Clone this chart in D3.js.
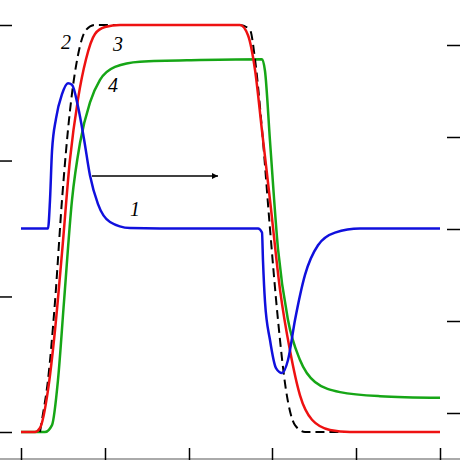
<!DOCTYPE html>
<html><head><meta charset="utf-8">
<script src="https://cdn.jsdelivr.net/npm/d3@7"></script>
<style>body{margin:0;background:#fff}svg{display:block}</style>
</head><body><svg id="c" width="460" height="460"></svg>
<script>
const blueX=[0,27,29,31,35,41,47,51,57,63,69,77,89,109,139,237,241,242,244,249,255,261,267,274,284,297,314,339,419];
const blueY=[50,50,57,69,77,83,85.7,85.3,80,72,63,56,51.6,50.1,50,50,49,42,32,22.6,15.7,14.5,17.7,27.5,38.6,45.9,49,50,50];
const redX=[0,14,19,27,34,41,49,57,65,74,84,99,219,227,234,241,249,259,269,279,291,309,329,419];
const redY=[0,0,1,10.3,25,44,67,81.8,91.6,97.8,99.5,100,100,97.5,89,74,57,35,20,9,3,0.5,0,0];
const greenX=[0,24,31,37,43,51,59,69,79,94,119,179,241,244,249,257,267,279,294,319,359,419];
const greenY=[0,0,1.7,12.8,32,57,71,81,86.5,89.7,91,91.4,91.6,88.7,71.5,45,27.5,17.7,12.3,9.8,8.8,8.4];
const dashX=[19,21,27,34,41,49,57,65,74,219,229,234,241,249,257,265,274,284,419];
const dashY=[0,3,12.8,32,57,79,92.6,98.8,100,100,98.8,91.6,74.4,49.9,27.5,10.3,1.7,0,0];
const xTicks=[0,84,168,251,335,419];
const leftTicks=[0,33.3,66.7,100];
const rightTicks=[0,1,2,3,4];
const labels=[{t:"1",x:109,y:53},{t:"2",x:40,y:94},{t:"3",x:92,y:93.5},{t:"4",x:87,y:83.5}];
const arrow={x0:71,x1:197,y:62.9};

const svg=d3.select("#c");
const x=d3.scaleLinear().domain([0,419]).range([21,440]);
const y=d3.scaleLinear().domain([0,100]).range([432,25]);
const yr=d3.scaleLinear().domain([0,4]).range([413,45]);
const line=d3.line().x(d=>x(d[0])).y(d=>y(d[1])).curve(d3.curveMonotoneX);
const zip=(a,b)=>a.map((v,i)=>[v,b[i]]);

svg.append("line").attr("x1",0).attr("x2",460).attr("y1",459).attr("y2",459).attr("stroke","#aaa").attr("stroke-width",2);
svg.append("g").attr("transform","translate(0,460)").call(d3.axisTop(x).tickValues(xTicks).tickSize(12).tickFormat("")).call(g=>g.select(".domain").remove()).selectAll("line").attr("stroke","#000").attr("stroke-width",1.5);
svg.append("g").attr("transform","translate(0,0)").call(d3.axisRight(y).tickValues(leftTicks).tickSize(12).tickFormat("")).call(g=>g.select(".domain").remove()).selectAll("line").attr("stroke","#000").attr("stroke-width",1.5);
svg.append("g").attr("transform","translate(460,0)").call(d3.axisLeft(yr).tickValues(rightTicks).tickSize(13).tickFormat("")).call(g=>g.select(".domain").remove()).selectAll("line").attr("stroke","#000").attr("stroke-width",1.5);

svg.append("path").attr("d",line(zip(greenX,greenY))).attr("fill","none").attr("stroke","#16a616").attr("stroke-width",2.5);
svg.append("path").attr("d",line(zip(dashX,dashY))).attr("fill","none").attr("stroke","#000").attr("stroke-width",2).attr("stroke-dasharray","9,5");
svg.append("path").attr("d",line(zip(redX,redY))).attr("fill","none").attr("stroke","#ee1111").attr("stroke-width",2.5);
svg.append("path").attr("d",line(zip(blueX,blueY))).attr("fill","none").attr("stroke","#1010dd").attr("stroke-width",2.5);

svg.append("defs").append("marker").attr("id","ah").attr("viewBox","0 0 10 10").attr("refX",10).attr("refY",5)
 .attr("markerWidth",16).attr("markerHeight",6).attr("markerUnits","userSpaceOnUse").attr("orient","auto")
 .append("path").attr("d","M0,0L10,5L0,10Z").attr("fill","#000");
svg.append("line").attr("x1",x(arrow.x0)).attr("x2",x(arrow.x1)).attr("y1",y(arrow.y)).attr("y2",y(arrow.y))
 .attr("stroke","#000").attr("stroke-width",1.5).attr("marker-end","url(#ah)");

svg.selectAll("text.l").data(labels).join("text").attr("x",d=>x(d.x)).attr("y",d=>y(d.y)).text(d=>d.t)
 .attr("font-family","Liberation Serif, serif").attr("font-style","italic").attr("font-size",20).attr("fill","#000");
</script></body></html>
